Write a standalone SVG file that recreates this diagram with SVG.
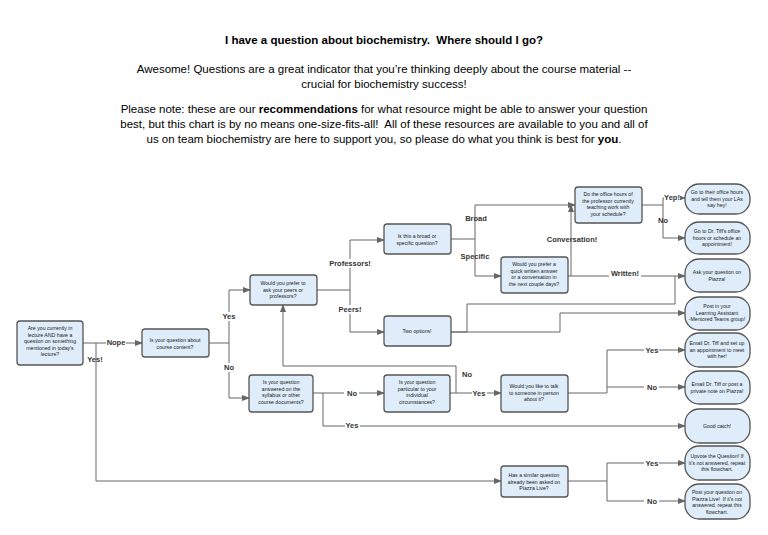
<svg xmlns="http://www.w3.org/2000/svg" width="768" height="535" viewBox="0 0 768 535">
<defs>
<marker id="ar" markerWidth="8" markerHeight="6" refX="7" refY="3" orient="auto" markerUnits="userSpaceOnUse"><path d="M0,0 L8,3 L0,6 z" fill="#666"/></marker>
<style>
.n{fill:#deedf9;stroke:#555;stroke-width:1.3}
.t{font-family:"Liberation Sans",Arial,sans-serif;font-size:5.2px;fill:#222;text-anchor:middle}
.c{fill:none;stroke:#666;stroke-width:1}
.l{font-family:"Liberation Sans",Arial,sans-serif;font-size:7.5px;font-weight:bold;fill:#333;text-anchor:middle}
.h{font-family:"Liberation Sans",Arial,sans-serif;font-size:11.5px;fill:#000;text-anchor:middle}
</style>
</defs>
<rect width="768" height="535" fill="#fff"/>
<text class="h" x="384" y="44" font-weight="bold" font-size="13">I have a question about biochemistry.&#160; Where should I go?</text>
<text class="h" x="384" y="73">Awesome! Questions are a great indicator that you’re thinking deeply about the course material --</text>
<text class="h" x="384" y="88">crucial for biochemistry success!</text>
<text class="h" x="384" y="113">Please note: these are our <tspan font-weight="bold">recommendations</tspan> for what resource might be able to answer your question</text>
<text class="h" x="384" y="128">best, but this chart is by no means one-size-fits-all!&#160; All of these resources are available to you and all of</text>
<text class="h" x="384" y="143">us on team biochemistry are here to support you, so please do what you think is best for <tspan font-weight="bold">you</tspan>.</text>

<g id="connectors">
<path class="c" d="M83,343 H142" marker-end="url(#ar)"/>
<path class="c" d="M96,343 V481 H501" marker-end="url(#ar)"/>
<path class="c" d="M209,343 H229 V290 H250" marker-end="url(#ar)"/>
<path class="c" d="M229,343 V398 H249" marker-end="url(#ar)"/>
<path class="c" d="M317,290 H350 V240 H384" marker-end="url(#ar)"/>
<path class="c" d="M350,290 V332 H384" marker-end="url(#ar)"/>
<path class="c" d="M451,239 H475 V205 H575" marker-end="url(#ar)"/>
<path class="c" d="M475,239 V276 H501" marker-end="url(#ar)"/>
<path class="c" d="M568,276 H685" marker-end="url(#ar)"/>
<path class="c" d="M571,276 V205" marker-end="url(#ar)"/>
<path class="c" d="M642,205 H663 V198 H685" marker-end="url(#ar)"/>
<path class="c" d="M663,205 V238 H685" marker-end="url(#ar)"/>
<path class="c" d="M451,332 H467 V304 H675 V276" />
<path class="c" d="M451,332 H560 V313 H685" marker-end="url(#ar)"/>
<path class="c" d="M313,393 H384" marker-end="url(#ar)"/>
<path class="c" d="M323,393 V426 H685" marker-end="url(#ar)"/>
<path class="c" d="M450,393 H501" marker-end="url(#ar)"/>
<path class="c" d="M456,393 V366 H283 V305" marker-end="url(#ar)"/>
<path class="c" d="M568,393 H607 V350 H685" marker-end="url(#ar)"/>
<path class="c" d="M607,387 H685" marker-end="url(#ar)"/>
<path class="c" d="M568,481 H607 V463 H685" marker-end="url(#ar)"/>
<path class="c" d="M607,481 V501 H685" marker-end="url(#ar)"/>
</g>
<g id="labels">
<rect x="106" y="338" width="20" height="9" fill="#fff"/><text class="l" x="116" y="345">Nope</text>
<text class="l" x="95" y="362">Yes!</text>
<rect x="222" y="312" width="15" height="9" fill="#fff"/><text class="l" x="229" y="319">Yes</text>
<rect x="222" y="363" width="15" height="9" fill="#fff"/><text class="l" x="229" y="370">No</text>
<rect x="329" y="259" width="42" height="9" fill="#fff"/><text class="l" x="350" y="266">Professors!</text>
<rect x="337" y="305" width="27" height="9" fill="#fff"/><text class="l" x="350" y="312">Peers!</text>
<text class="l" x="476" y="221">Broad</text>
<text class="l" x="475" y="259">Specific</text>
<text class="l" x="572" y="242">Conversation!</text>
<rect x="609" y="269" width="32" height="9" fill="#fff"/><text class="l" x="625" y="276">Written!</text>
<rect x="664" y="193" width="16" height="9" fill="#fff"/><text class="l" x="672" y="200">Yep!</text>
<text class="l" x="663" y="223">No</text>
<rect x="344" y="389" width="15" height="9" fill="#fff"/><text class="l" x="352" y="396">No</text>
<rect x="345" y="421" width="15" height="9" fill="#fff"/><text class="l" x="352" y="428">Yes</text>
<text class="l" x="467" y="377">No</text>
<rect x="472" y="389" width="15" height="9" fill="#fff"/><text class="l" x="479" y="396">Yes</text>
<rect x="644" y="346" width="15" height="9" fill="#fff"/><text class="l" x="652" y="353">Yes</text>
<rect x="644" y="383" width="15" height="9" fill="#fff"/><text class="l" x="652" y="390">No</text>
<rect x="644" y="459" width="15" height="9" fill="#fff"/><text class="l" x="652" y="466">Yes</text>
<rect x="644" y="497" width="15" height="9" fill="#fff"/><text class="l" x="652" y="504">No</text>
</g>

<g id="A"><rect class="n" x="17" y="321" width="66" height="44" rx="3"/><text class="t" x="50" y="330"><tspan x="50">Are you currently in</tspan><tspan x="50" dy="6.6">lecture AND have a</tspan><tspan x="50" dy="6.6">question on something</tspan><tspan x="50" dy="6.6">mentioned in today's</tspan><tspan x="50" dy="6.6">lecture?</tspan></text></g>
<g id="B"><rect class="n" x="142" y="329" width="67" height="28" rx="3"/><text class="t" x="175" y="342"><tspan x="175">Is your question about</tspan><tspan x="175" dy="6.6">course content?</tspan></text></g>
<g id="C"><rect class="n" x="250" y="275" width="67" height="30" rx="3"/><text class="t" x="283" y="285"><tspan x="283">Would you prefer to</tspan><tspan x="283" dy="6.6">ask your peers or</tspan><tspan x="283" dy="6.6">professors?</tspan></text></g>
<g id="D"><rect class="n" x="384" y="224" width="67" height="30" rx="3"/><text class="t" x="417" y="238"><tspan x="417">Is this a broad or</tspan><tspan x="417" dy="6.6">specific question?</tspan></text></g>
<g id="E"><rect class="n" x="501" y="257" width="67" height="36" rx="3"/><text class="t" x="534" y="266"><tspan x="534">Would you prefer a</tspan><tspan x="534" dy="6.6">quick written answer</tspan><tspan x="534" dy="6.6">or a conversation in</tspan><tspan x="534" dy="6.6">the next couple days?</tspan></text></g>
<g id="F"><rect class="n" x="575" y="187" width="67" height="36" rx="3"/><text class="t" x="608" y="196"><tspan x="608">Do the office hours of</tspan><tspan x="608" dy="6.6">the professor currently</tspan><tspan x="608" dy="6.6">teaching work with</tspan><tspan x="608" dy="6.6">your schedule?</tspan></text></g>
<g id="G"><rect class="n" x="384" y="316" width="67" height="30" rx="3"/><text class="t" x="417" y="333">Two options!</text></g>
<g id="H"><rect class="n" x="249" y="375" width="64" height="37" rx="3"/><text class="t" x="281" y="384"><tspan x="281">Is your question</tspan><tspan x="281" dy="6.6">answered on the</tspan><tspan x="281" dy="6.6">syllabus or other</tspan><tspan x="281" dy="6.6">course documents?</tspan></text></g>
<g id="I"><rect class="n" x="384" y="375" width="66" height="37" rx="3"/><text class="t" x="417" y="384"><tspan x="417">Is your question</tspan><tspan x="417" dy="6.6">particular to your</tspan><tspan x="417" dy="6.6">individual</tspan><tspan x="417" dy="6.6">circumstances?</tspan></text></g>
<g id="J"><rect class="n" x="501" y="375" width="67" height="37" rx="3"/><text class="t" x="534" y="388"><tspan x="534">Would you like to talk</tspan><tspan x="534" dy="6.6">to someone in person</tspan><tspan x="534" dy="6.6">about it?</tspan></text></g>
<g id="K"><rect class="n" x="501" y="466" width="67" height="31" rx="3"/><text class="t" x="534" y="477"><tspan x="534">Has a similar question</tspan><tspan x="534" dy="6.6">already been asked on</tspan><tspan x="534" dy="6.6">Piazza Live?</tspan></text></g>

<g id="T1"><rect class="n" x="685" y="184" width="65" height="30" rx="14"/><text class="t" x="717" y="194"><tspan x="717">Go to their office hours</tspan><tspan x="717" dy="6.6">and tell them your LAs</tspan><tspan x="717" dy="6.6">say hey!</tspan></text></g>
<g id="T2"><rect class="n" x="685" y="222" width="65" height="32" rx="14"/><text class="t" x="717" y="233"><tspan x="717">Go to Dr. Tiff's office</tspan><tspan x="717" dy="6.6">hours or schedule an</tspan><tspan x="717" dy="6.6">appointment!</tspan></text></g>
<g id="T3"><rect class="n" x="685" y="259" width="65" height="33" rx="14"/><text class="t" x="717" y="274"><tspan x="717">Ask your question on</tspan><tspan x="717" dy="6.6">Piazza!</tspan></text></g>
<g id="T4"><rect class="n" x="685" y="297" width="65" height="33" rx="14"/><text class="t" x="717" y="308"><tspan x="717">Post in your</tspan><tspan x="717" dy="6.6">Learning Assistant</tspan><tspan x="717" dy="6.6">-Mentored Teams group!</tspan></text></g>
<g id="T5"><rect class="n" x="685" y="333" width="65" height="34" rx="14"/><text class="t" x="717" y="345"><tspan x="717">Email Dr. Tiff and set up</tspan><tspan x="717" dy="6.6">an appointment to meet</tspan><tspan x="717" dy="6.6">with her!</tspan></text></g>
<g id="T6"><rect class="n" x="685" y="371" width="65" height="33" rx="14"/><text class="t" x="717" y="386"><tspan x="717">Email Dr. Tiff or post a</tspan><tspan x="717" dy="6.6">private note on Piazza!</tspan></text></g>
<g id="T7"><rect class="n" x="685" y="409" width="65" height="34" rx="14"/><text class="t" x="717" y="428">Good catch!</text></g>
<g id="T8"><rect class="n" x="685" y="446" width="65" height="34" rx="14"/><text class="t" x="717" y="458"><tspan x="717">Upvote the Question! If</tspan><tspan x="717" dy="6.6">it's not answered, repeat</tspan><tspan x="717" dy="6.6">this flowchart.</tspan></text></g>
<g id="T9"><rect class="n" x="685" y="484" width="65" height="35" rx="14"/><text class="t" x="717" y="494"><tspan x="717">Post your question on</tspan><tspan x="717" dy="6.6">Piazza Live!&#160; If it's not</tspan><tspan x="717" dy="6.6">answered, repeat this</tspan><tspan x="717" dy="6.6">flowchart.</tspan></text></g>
</svg>
